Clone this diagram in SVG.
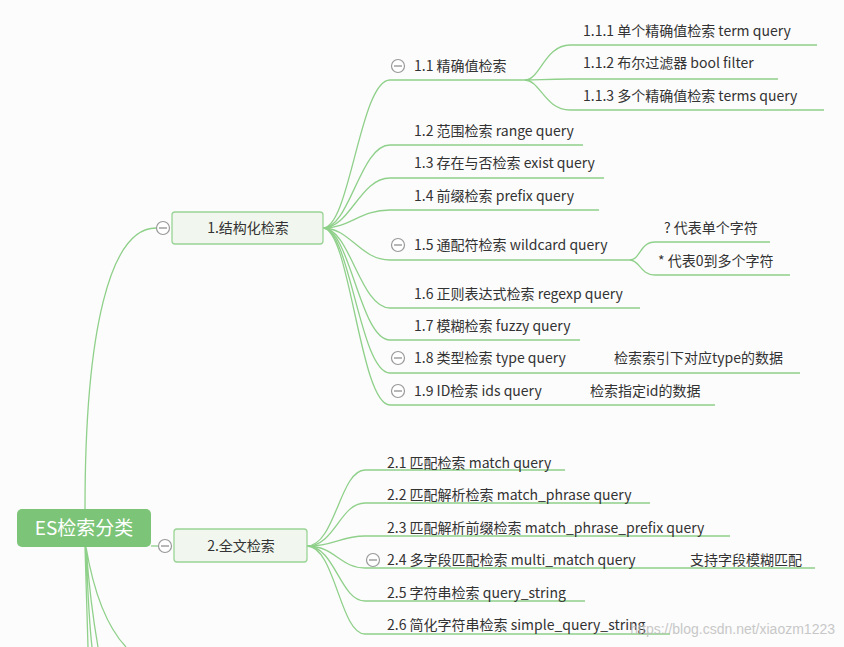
<svg xmlns="http://www.w3.org/2000/svg" width="844" height="647" viewBox="0 0 844 647">
<style>
.c{fill:none;stroke:#8fd08a;stroke-width:1.3}
.t{font-family:"Noto Sans CJK SC","Liberation Sans",sans-serif;font-size:14px;fill:#333}
.m{fill:#fff;stroke:#999;stroke-width:1.2}
.ml{stroke:#888;stroke-width:1.2}
.b{fill:#f1f7ef;stroke:#9ad495;stroke-width:1.3}
</style>
<defs><g id="minus"><circle r="6.5" class="m"/><line x1="-4" x2="4" class="ml"/></g></defs>
<rect width="844" height="647" fill="#fcfcfc"/>
<g id="connectors">
<path class="c" d="M85,509 C85,330 110,228 156,228"/>
<path class="c" d="M85,547 L88,647 M86,547 C88,600 90,630 92,647 M86,547 C90,600 95,630 98,647 M86,547 C95,600 110,630 126,647"/>
<path class="c" d="M151,546 L158,546"/>
<path class="c" d="M323,228 C350,228 360,80 390,80 L530,80"/>
<path class="c" d="M323,228 C350,228 360,145 390,145 L583,145"/>
<path class="c" d="M323,228 C350,228 360,178 390,178 L604,178"/>
<path class="c" d="M323,228 C350,228 360,210 390,210 L599,210"/>
<path class="c" d="M323,228 C350,228 360,260 390,260 L630,260"/>
<path class="c" d="M323,228 C350,228 360,308 390,308 L640,308"/>
<path class="c" d="M323,228 C350,228 360,340 390,340 L580,340"/>
<path class="c" d="M323,228 C350,228 360,373 390,373 L800,373"/>
<path class="c" d="M323,228 C350,228 360,405 390,405 L715,405"/>
<path class="c" d="M525,80 C540,80 545,45 570,45 L817,45"/>
<path class="c" d="M525,80 C540,80 545,79 570,79 L778,79"/>
<path class="c" d="M525,80 C540,80 545,110 570,110 L824,110"/>
<path class="c" d="M630,260 C640,260 640,242 655,242 L770,242"/>
<path class="c" d="M630,260 C640,260 640,275 655,275 L790,275"/>
<path class="c" d="M307,546 C335,546 340,470 365,470 L565,470"/>
<path class="c" d="M307,546 C335,546 340,503 365,503 L650,503"/>
<path class="c" d="M307,546 C335,546 340,536 365,536 L730,536"/>
<path class="c" d="M307,546 C335,546 340,568 365,568 L815,568"/>
<path class="c" d="M307,546 C335,546 340,601 365,601 L585,601"/>
<path class="c" d="M307,546 C335,546 340,634 365,634 L670,634"/>
</g>
<g id="root"><rect x="17" y="509" width="134" height="38" rx="5" fill="#7cc478"/><text x="84" y="535" text-anchor="middle" font-family="Noto Sans CJK SC,Liberation Sans,sans-serif" font-size="19" fill="#fff">ES检索分类</text></g>
<g id="n1"><rect class="b" x="172" y="212" width="151" height="32" rx="3"/><use href="#minus" x="163" y="228"/><text class="t" x="248" y="233" text-anchor="middle" font-size="16">1.结构化检索</text></g>
<g id="n2"><rect class="b" x="174" y="529" width="133" height="33" rx="3"/><use href="#minus" x="165" y="546"/><text class="t" x="241" y="551" text-anchor="middle" font-size="16">2.全文检索</text></g>
<g id="n11"><use href="#minus" x="398" y="66"/><text class="t" x="414" y="71">1.1 精确值检索</text></g>
<g id="n111"><text class="t" x="583" y="36">1.1.1 单个精确值检索 term query</text></g>
<g id="n112"><text class="t" x="583" y="68">1.1.2 布尔过滤器 bool filter</text></g>
<g id="n113"><text class="t" x="583" y="101">1.1.3 多个精确值检索 terms query</text></g>
<g id="n12"><text class="t" x="414" y="136">1.2 范围检索 range query</text></g>
<g id="n13"><text class="t" x="414" y="168">1.3 存在与否检索 exist query</text></g>
<g id="n14"><text class="t" x="414" y="201">1.4 前缀检索 prefix query</text></g>
<g id="n15"><use href="#minus" x="398" y="245"/><text class="t" x="414" y="250">1.5 通配符检索 wildcard query</text></g>
<g id="n151"><text class="t" x="664" y="233">? 代表单个字符</text></g>
<g id="n152"><text class="t" x="658" y="266">* 代表0到多个字符</text></g>
<g id="n16"><text class="t" x="414" y="299">1.6 正则表达式检索 regexp query</text></g>
<g id="n17"><text class="t" x="414" y="331">1.7 模糊检索 fuzzy query</text></g>
<g id="n18"><use href="#minus" x="398" y="358"/><text class="t" x="414" y="363">1.8 类型检索 type query</text></g>
<g id="n181"><text class="t" x="614" y="363">检索索引下对应type的数据</text></g>
<g id="n19"><use href="#minus" x="398" y="391"/><text class="t" x="414" y="396">1.9 ID检索 ids query</text></g>
<g id="n191"><text class="t" x="590" y="396">检索指定id的数据</text></g>
<g id="n21"><text class="t" x="387" y="468">2.1 匹配检索 match query</text></g>
<g id="n22"><text class="t" x="387" y="500">2.2 匹配解析检索 match_phrase query</text></g>
<g id="n23"><text class="t" x="387" y="533">2.3 匹配解析前缀检索 match_phrase_prefix query</text></g>
<g id="n24"><use href="#minus" x="373" y="560"/><text class="t" x="387" y="565">2.4 多字段匹配检索  multi_match query</text></g>
<g id="n241"><text class="t" x="690" y="565">支持字段模糊匹配</text></g>
<g id="n25"><text class="t" x="387" y="598">2.5  字符串检索 query_string</text></g>
<g id="n26"><text class="t" x="387" y="630">2.6 简化字符串检索 simple_query_string</text></g>
<text x="835" y="634" text-anchor="end" font-family="Liberation Sans,sans-serif" font-size="14" fill="#bbb" opacity="0.8">https://blog.csdn.net/xiaozm1223</text>
</svg>
